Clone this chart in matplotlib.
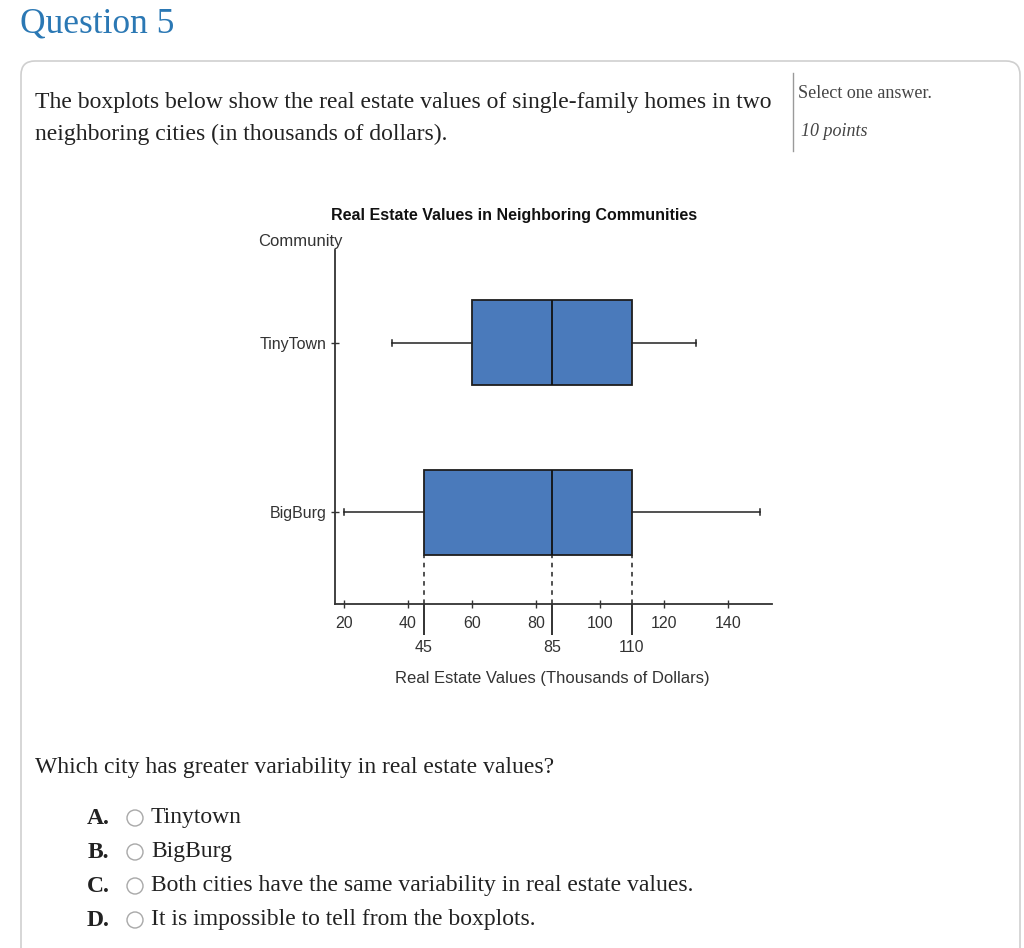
import numpy as np
import matplotlib.pyplot as plt
from matplotlib.patches import FancyBboxPatch, Ellipse

# boxplot data (thousands of dollars)
communities = ["BigBurg", "TinyTown"]
mins = [20, 35]
q1s = [45, 60]
medians = [85, 85]
q3s = [110, 110]
maxs = [150, 130]

major_ticks = [20, 40, 60, 80, 100, 120, 140]
marked_ticks = [45, 85, 110]   # quartiles of BigBurg, shown under the axis

options = ["Tinytown", "BigBurg",
           "Both cities have the same variability in real estate values.",
           "It is impossible to tell from the boxplots."]
letters = ["A.", "B.", "C.", "D."]

W, H = 1024, 948
fig = plt.figure(figsize=(W / 100, H / 100), dpi=100)
fig.patch.set_facecolor("white")

# background axes in pixel coordinates for the page around the chart
bg = fig.add_axes([0, 0, 1, 1])
bg.set_xlim(0, W)
bg.set_ylim(H, 0)
bg.axis("off")

serif = "Liberation Serif"
sans = "Liberation Sans"
body = 17

bg.text(20, 24, "Question 5", fontsize=25.5, family=serif, color="#2b78b4",
        va="center", ha="left")

panel = FancyBboxPatch((21, 61), 999, 1000, boxstyle="round,pad=0,rounding_size=14",
                       facecolor="white", edgecolor="#cfcfcf", lw=1.2)
bg.add_patch(panel)

bg.text(35, 102, "The boxplots below show the real estate values of single-family homes in two",
        fontsize=body, family=serif, color="#222222", va="center")
bg.text(35, 134, "neighboring cities (in thousands of dollars).",
        fontsize=body, family=serif, color="#222222", va="center")

bg.plot([793, 793], [73, 151], color="#9a9a9a", lw=1)
bg.text(798, 93, "Select one answer.", fontsize=13, family=serif, color="#444444", va="center")
bg.text(801, 131, "10 points", fontsize=13, family=serif, style="italic",
        color="#444444", va="center")

# chart texts outside the axes
bg.text(514, 215, "Real Estate Values in Neighboring Communities", fontsize=11.5,
        family=sans, weight="bold", color="#111111", ha="center", va="center")
bg.text(300, 241, "Community", fontsize=12, family=sans, color="#333333",
        ha="center", va="center")
bg.text(552, 679, "Real Estate Values (Thousands of Dollars)", fontsize=12,
        family=sans, color="#333333", ha="center", va="center")

bg.text(35, 767, "Which city has greater variability in real estate values?",
        fontsize=body, family=serif, color="#222222", va="center")
for i, (let, opt) in enumerate(zip(letters, options)):
    y = 817 + i * 34
    bg.text(98, y + 1, let, fontsize=body, family=serif, weight="bold",
            color="#222222", va="center", ha="center")
    bg.add_patch(Ellipse((135, y + 1), 16, 16, facecolor="white",
                         edgecolor="#a8a8a8", lw=1))
    bg.text(151, y, opt, fontsize=body, family=serif, color="#222222", va="center")

# boxplot axes
ax = fig.add_axes([335 / W, 1 - 604 / H, (772 - 335) / W, (604 - 250) / H])
ax.set_zorder(2)
ax.patch.set_alpha(0)

stats = []
for name, lo, a, m, b, hi in zip(communities, mins, q1s, medians, q3s, maxs):
    stats.append(dict(label=name, whislo=lo, q1=a, med=m, q3=b, whishi=hi, fliers=[]))

pos = np.arange(1, len(communities) + 1)
ax.bxp(stats, positions=pos, widths=0.503, orientation="horizontal",
       patch_artist=True, showfliers=False, capwidths=0.035,
       boxprops=dict(facecolor="#4a7abb", edgecolor="#1e1e1e", lw=1.3),
       medianprops=dict(color="#111111", lw=1.3),
       whiskerprops=dict(color="#222222", lw=1.1),
       capprops=dict(color="#222222", lw=1.1))

ax.set_xlim(17.2, 153.8)
ax.set_ylim(0.456, 2.55)

# dashed guides from the BigBurg box down to the axis
ax.vlines(marked_ticks, 0.456, 1 - 0.503 / 2, colors="#222222", lw=1.1,
          linestyles=(0, (3, 3)))

ax.set_xticks(major_ticks)
ax.set_xticks(marked_ticks, minor=True)
ax.set_xticklabels([str(t) for t in marked_ticks], minor=True)
ax.tick_params(axis="x", which="major", direction="inout", length=6, width=1,
               pad=6, labelsize=11.5, labelcolor="#333333", color="#333333")
ax.tick_params(axis="x", which="minor", direction="out", length=22, width=1.3,
               pad=4, labelsize=11.5, labelcolor="#333333", color="#222222")
for lab in ax.get_xticklabels(which="both"):
    lab.set_family(sans)

ax.set_yticks(pos)
ax.set_yticklabels(communities, family=sans)
ax.tick_params(axis="y", direction="inout", length=6, width=1, pad=3,
               labelsize=11.5, labelcolor="#333333", color="#333333")

for s in ["top", "right"]:
    ax.spines[s].set_visible(False)
for s in ["left", "bottom"]:
    ax.spines[s].set_color("#333333")
    ax.spines[s].set_linewidth(1.3)

fig.savefig("out.png", dpi=100)
